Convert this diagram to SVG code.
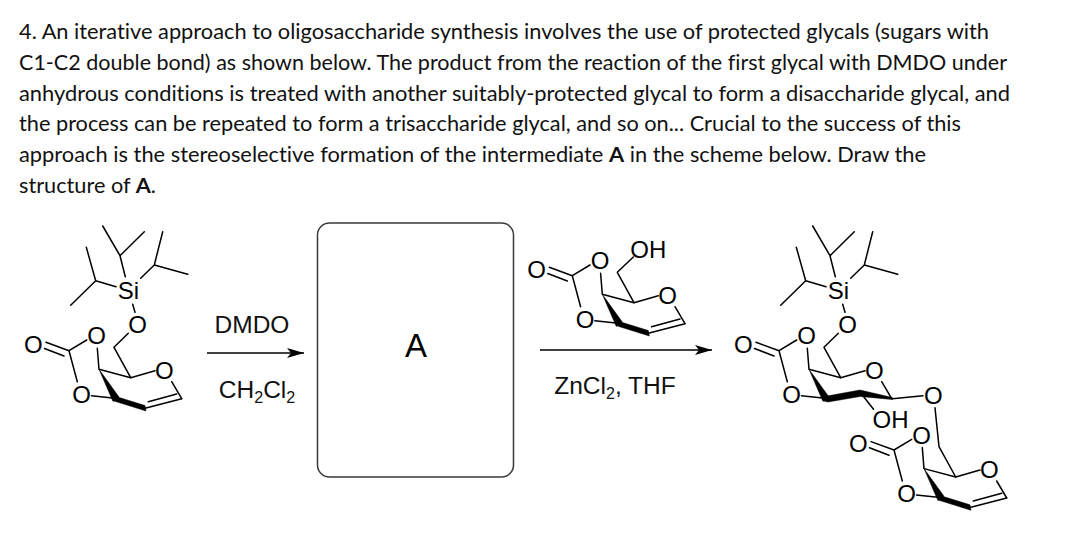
<svg xmlns="http://www.w3.org/2000/svg" width="1077" height="533" viewBox="0 0 1077 533">
<style>
.body{font:21.5px Lato,"Liberation Sans",sans-serif;fill:#111;font-variant-ligatures:none}
.body tspan{font-weight:700}
.atom{font:24px "Liberation Sans",Arial,sans-serif;fill:#000;text-anchor:middle}
.lab{font:24.5px "Liberation Sans",Arial,sans-serif;fill:#111;text-anchor:middle}
.sub{font-size:16px}
.b{fill:none;stroke:#000;stroke-width:1.5;stroke-linecap:round;stroke-linejoin:round}
.w{fill:#000;stroke:#000;stroke-width:.5;stroke-linejoin:round}
.ar{fill:none;stroke:#000;stroke-width:1.7}
</style>
<defs>
<marker id="arrow" markerUnits="userSpaceOnUse" markerWidth="18" markerHeight="10" refX="17" refY="5" orient="auto"><path d="M0 0L17 5L0 10L4 5Z" fill="#000"/></marker>
<g id="core">
<path class="b" d="M66.700 115L49 125.700M49 125.700L26 117.300M44 131L24.500 123.500M49 125.700L57.300 156.700M77.300 123.300L79 144.300M71.500 170.700L95 173.300M79 144.300L110.700 152.700L135 145.700M151.700 156.700L161.700 173.700"/>
<path class="w" d="M79 144.300L99 172L93 176.500Z"/>
</g>
<path id="alkene" class="b" d="M161.700 173.700L125 183.300M156.700 169L128.300 176.700"/>
<path id="alkene-wedge" class="w" d="M96 171.500L125 180.500L126 186L94 176Z"/>
<path id="tips" class="b" d="M105.300 51.700L100 30.700L82.700 1M100 30.700L124.300 6.700M96 61.700L75.700 55.700L66.300 22.300M75.700 55.700L50.700 80.300M120.700 53.300L134.300 40L142.700 6.700M134.300 40L167.700 49.300M112.700 79.300L115 87.300M108.300 108.300L94 122.300L110.700 152.700"/>
</defs>

<g id="question">
<text class="body" x="19" y="39" textLength="970" lengthAdjust="spacingAndGlyphs">4. An iterative approach to oligosaccharide synthesis involves the use of protected glycals (sugars with</text>
<text class="body" x="19" y="70" textLength="988" lengthAdjust="spacingAndGlyphs">C1-C2 double bond) as shown below. The product from the reaction of the first glycal with DMDO under</text>
<text class="body" x="19" y="101" textLength="991" lengthAdjust="spacingAndGlyphs">anhydrous conditions is treated with another suitably-protected glycal to form a disaccharide glycal, and</text>
<text class="body" x="19" y="131" textLength="942" lengthAdjust="spacingAndGlyphs">the process can be repeated to form a trisaccharide glycal, and so on... Crucial to the success of this</text>
<text class="body" x="19" y="162" textLength="907" lengthAdjust="spacingAndGlyphs">approach is the stereoselective formation of the intermediate <tspan>A</tspan> in the scheme below. Draw the</text>
<text class="body" x="19" y="193" textLength="137" lengthAdjust="spacingAndGlyphs">structure of <tspan>A</tspan>.</text>
</g>

<g id="connectors">
<path class="ar" d="M207 353H304" marker-end="url(#arrow)"/>
<path class="ar" d="M540 350H712" marker-end="url(#arrow)"/>
</g>

<g id="reagents-1">
<text class="lab" x="252" y="333">DMDO</text>
<text class="lab" x="257" y="398">CH<tspan class="sub" dy="5">2</tspan><tspan dy="-5">Cl</tspan><tspan class="sub" dy="5">2</tspan></text>
</g>
<g id="reagents-2">
<text class="lab" x="615" y="394">ZnCl<tspan class="sub" dy="5">2</tspan><tspan dy="-5">, THF</tspan></text>
</g>

<g id="intermediate-A">
<rect x="317.500" y="223" width="196" height="254" rx="12" fill="#fff" stroke="#3a3a3a" stroke-width="1.500"/>
<text class="atom" x="416" y="356.500" style="font-size:33px">A</text>
</g>

<g id="glycal-1" transform="translate(20 225)">
<use href="#core"/><use href="#alkene"/><use href="#alkene-wedge"/><use href="#tips"/>
<text class="atom" x="108.300" y="74.300">Si</text>
<text class="atom" x="117.700" y="107.600">O</text>
<text class="atom" x="13.300" y="127.600">O</text>
<text class="atom" x="76.700" y="119.300">O</text>
<text class="atom" x="61.700" y="178">O</text>
<text class="atom" x="144.300" y="153.600">O</text>
</g>

<g id="glycal-2" transform="translate(523.300 150)">
<use href="#core"/><use href="#alkene"/><use href="#alkene-wedge"/>
<path class="b" d="M110 107L94 122.300L110.700 152.700"/>
<text class="atom" x="13.300" y="127.600">O</text>
<text class="atom" x="76.700" y="119.300">O</text>
<text class="atom" x="61.700" y="178">O</text>
<text class="atom" x="144.300" y="153.600">O</text>
<text class="atom" x="125" y="107.500">OH</text>
</g>

<g id="product-upper" transform="translate(730 225)">
<use href="#core"/><use href="#tips"/>
<path class="b" d="M162.300 173.700L193 170.700M130 167L143.500 184.300"/>
<path class="w" d="M162.300 172.500L130 165L97 171L94 176L98 177L130 171.500L162.300 174.500Z"/>
<text class="atom" x="108.300" y="74.300">Si</text>
<text class="atom" x="117.700" y="107.600">O</text>
<text class="atom" x="13.300" y="127.600">O</text>
<text class="atom" x="76.700" y="119.300">O</text>
<text class="atom" x="61.700" y="178">O</text>
<text class="atom" x="144.300" y="153.600">O</text>
<text class="atom" x="160.500" y="202.500">OH</text>
<text class="atom" x="203.300" y="179.300">O</text>
</g>

<g id="product-lower" transform="translate(845 324.300)">
<use href="#core"/><use href="#alkene"/><use href="#alkene-wedge"/>
<path class="b" d="M90 83.500L94 122.300L110.700 152.700"/>
<text class="atom" x="13.300" y="127.600">O</text>
<text class="atom" x="76.700" y="119.300">O</text>
<text class="atom" x="61.700" y="178">O</text>
<text class="atom" x="144.300" y="153.600">O</text>
</g>
</svg>
